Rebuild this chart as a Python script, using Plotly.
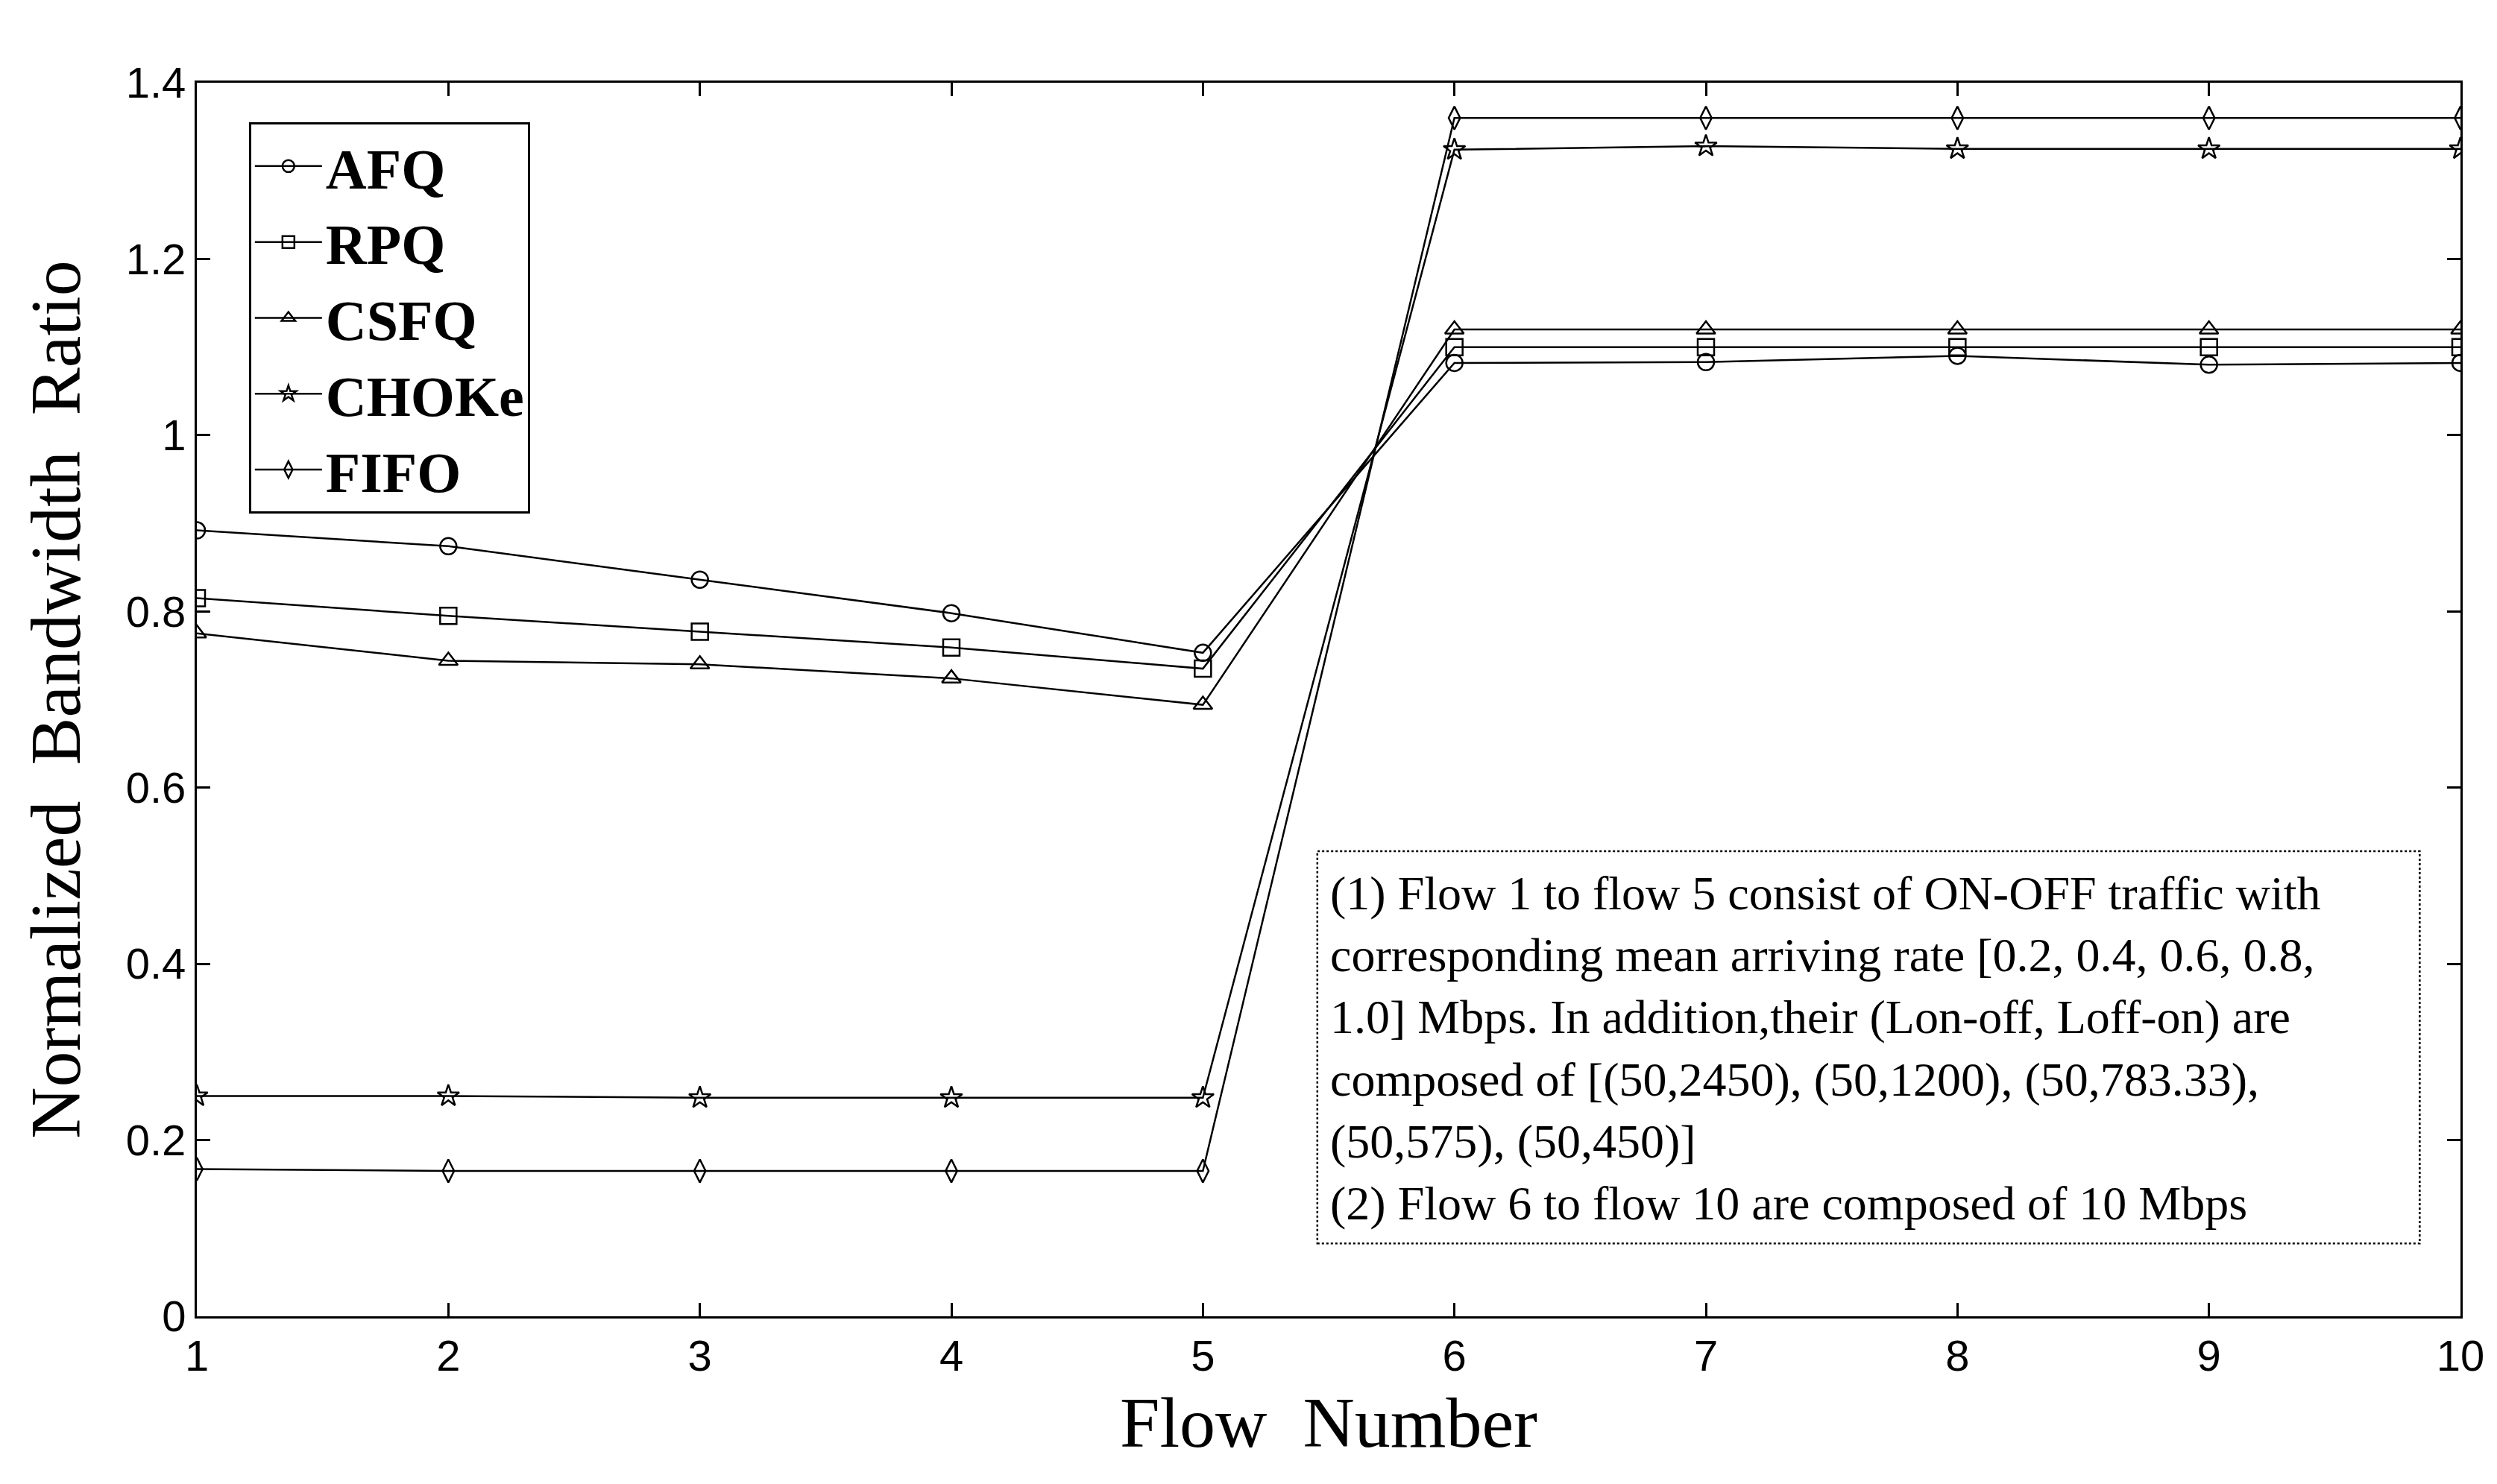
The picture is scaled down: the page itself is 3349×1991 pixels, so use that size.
import plotly.graph_objects as go

flows = [1, 2, 3, 4, 5, 6, 7, 8, 9, 10]
afq = [0.892, 0.874, 0.836, 0.798, 0.753, 1.082, 1.083, 1.09, 1.08, 1.082]
rpq = [0.815, 0.795, 0.777, 0.759, 0.735, 1.10, 1.10, 1.10, 1.10, 1.10]
csfq = [0.775, 0.744, 0.74, 0.724, 0.694, 1.12, 1.12, 1.12, 1.12, 1.12]
choke = [0.25, 0.25, 0.248, 0.248, 0.248, 1.324, 1.328, 1.325, 1.325, 1.325]
fifo = [0.167, 0.165, 0.165, 0.165, 0.165, 1.36, 1.36, 1.36, 1.36, 1.36]
names = ["AFQ", "RPQ", "CSFQ", "CHOKe", "FIFO"]
symbols = ["circle-open", "square-open", "triangle-up-open", "star-open", "diamond-tall-open"]
series = [afq, rpq, csfq, choke, fifo]

fig = go.Figure()
for n, s, v in zip(names, symbols, series):
    fig.add_trace(go.Scatter(x=flows, y=v, name=n, mode="lines+markers",
                             line=dict(color="black", width=2.5),
                             marker=dict(symbol=s, size=22, color="black", line=dict(width=2.5, color="black"))))

axis = dict(showline=True, mirror="ticks", linecolor="black", linewidth=3, ticks="inside",
            ticklen=18, tickwidth=2.5, tickcolor="black", showgrid=False, zeroline=False,
            tickfont=dict(family="Liberation Sans", size=58, color="black"))
fig.update_xaxes(range=[1, 10], dtick=1, title=dict(text="Flow  Number", standoff=25,
                 font=dict(family="Liberation Serif", size=96, color="black")), **axis)
fig.update_yaxes(range=[0, 1.4], dtick=0.2, tickformat="~g", title=dict(text="Normalized  Bandwidth  Ratio", standoff=30,
                 font=dict(family="Liberation Serif", size=96, color="black")), **axis)

fig.add_shape(type="rect", xref="paper", yref="paper", x0=0.495, x1=0.982, y0=0.059, y1=0.377,
              line=dict(color="black", width=2.5, dash="dot"), fillcolor="white", layer="below")
fig.add_annotation(xref="paper", yref="paper", x=0.500, y=0.217, xanchor="left", yanchor="middle",
                   align="left", showarrow=False,
                   font=dict(family="Liberation Serif", size=64, color="black"),
                   text="(1) Flow 1 to flow 5 consist of ON-OFF traffic with<br>"
                        "corresponding mean arriving rate [0.2, 0.4, 0.6, 0.8,<br>"
                        "1.0] Mbps. In addition,their (Lon-off, Loff-on) are<br>"
                        "composed of [(50,2450), (50,1200), (50,783.33),<br>"
                        "(50,575), (50,450)]<br>"
                        "(2) Flow 6 to flow 10 are composed of 10 Mbps")

fig.update_layout(width=3349, height=1991, paper_bgcolor="white", plot_bgcolor="white",
                  margin=dict(l=256, r=57, t=103, b=233),
                  legend=dict(x=0.023, y=0.968, xanchor="left", yanchor="top",
                              bordercolor="black", borderwidth=3, bgcolor="white",
                              font=dict(family="Liberation Serif", size=76, color="black", weight="bold"),
                              itemwidth=90, tracegroupgap=0))
fig.write_html("out.html")
